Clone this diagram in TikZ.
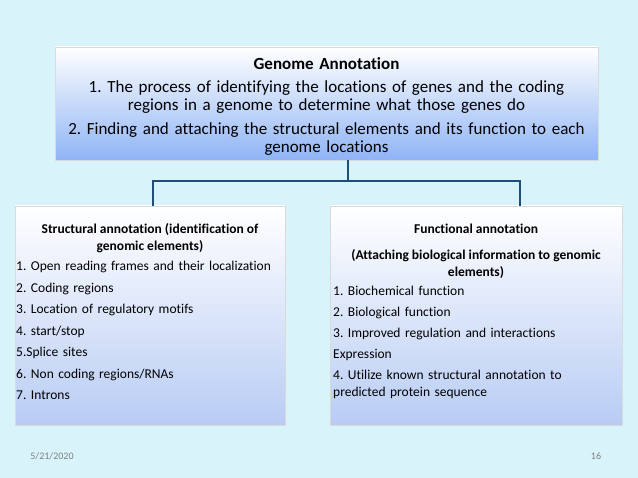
\documentclass[tikz,border=0pt]{standalone}
\usepackage{fontspec}
\setmainfont[RawFeature=-liga]{Carlito}
\definecolor{bg}{HTML}{D8F3FA}
\definecolor{topb}{HTML}{8FB4F5}
\definecolor{boxb}{HTML}{B8CCF4}
\definecolor{line}{HTML}{1F4E79}
\frenchspacing
\begin{document}
\begin{tikzpicture}[x=1bp,y=-1bp,
 txt/.style={font=\fontsize{13.5bp}{16.5bp}\selectfont,align=left,anchor=north west,inner sep=0pt,text width=#1},
 hd/.style={align=center,font=\fontsize{13.5bp}{16.5bp}\selectfont\bfseries},
 conn/.style={draw=line,line width=1.3pt}]
\fill[bg] (0,0) rectangle (638,478);
\shade[top color=white,bottom color=topb,draw=white!70!gray] (55,47) rectangle (598,160);
\node[align=center,font=\fontsize{17bp}{18bp}\selectfont,text width=540bp] (top) at (326.5,106) {\textbf{Genome Annotation}\\[5bp]
1. The process of identifying the locations of genes and the coding\\ regions in a genome to determine what those genes do\\[6bp]
2. Finding and attaching the structural elements and its function to each\\ genome locations};
\shade[top color=white,bottom color=boxb,draw=white!70!gray] (15,206) rectangle (285,425);
\shade[top color=white,bottom color=boxb,draw=white!70!gray] (330,206) rectangle (622,425);
\coordinate (L) at (153,206); \coordinate (R) at (520,206);
\coordinate (T) at (348,160);
\draw[conn] (T) -- (348,181) -| (L);
\draw[conn] (348,181) -| (R);
\node[hd] at (150,238) {Structural annotation (identification of\\genomic elements)};
\node[txt=268bp] at (16,261) {1. Open reading frames and their localization\\[5bp]2. Coding regions\\[5bp]3. Location of regulatory motifs\\[5bp]4. start/stop\\[5bp]5.Splice sites\\[5bp]6. Non coding regions/RNAs\\[5bp]7. Introns};
\node[hd] at (476,229) {Functional annotation};
\node[hd] at (476,264) {(Attaching biological information to genomic\\elements)};
\node[txt=285bp] at (333,286) {1. Biochemical function\\[4.5bp]2. Biological function\\[4.5bp]3. Improved regulation and interactions\\[4.5bp]Expression\\[4.5bp]4. Utilize known structural annotation to\\predicted protein sequence};
\node[font=\fontsize{10bp}{11bp}\selectfont,text=gray] at (52,456) {5/21/2020};
\node[font=\fontsize{10bp}{11bp}\selectfont,text=gray] at (596,456) {16};
\end{tikzpicture}
\end{document}
